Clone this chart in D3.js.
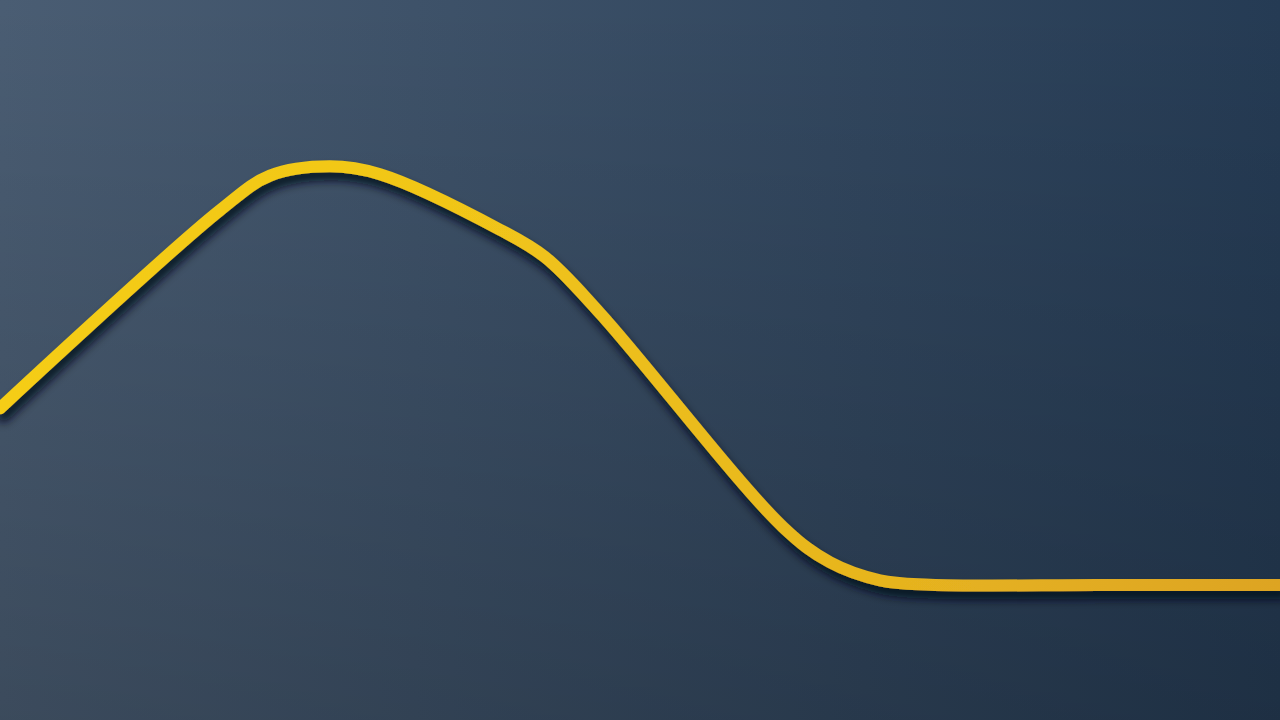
<!DOCTYPE html>
<html>
<head>
<meta charset="utf-8">
<script src="https://cdn.jsdelivr.net/npm/d3@7"></script>
<style>
  html, body { margin: 0; padding: 0; background: #2c3f55; }
  svg { display: block; }
</style>
</head>
<body>
<div id="chart"></div>
<script>
// points: position along x, value in % of chart height
var positions = [0, 220, 270, 330, 380, 500, 545, 600, 783, 830, 880, 930, 1100, 1280];
var values = [43.3, 70.8, 75.6, 76.9, 75.8, 68.1, 64.3, 56.5, 26.8, 21.9, 19.4, 18.8, 18.75, 18.75];

var width = 1280,
    height = 720;

var svg = d3.select("#chart").append("svg")
    .attr("width", width)
    .attr("height", height);

var defs = svg.append("defs");

// background: blue-grey, darker to the right and a bit towards the bottom
var bg = defs.append("linearGradient")
    .attr("id", "bg")
    .attr("x1", 0).attr("y1", 0)
    .attr("x2", 1).attr("y2", 0);
bg.append("stop").attr("offset", 0).attr("stop-color", "#4a5d73");
bg.append("stop").attr("offset", 1).attr("stop-color", "#253b54");

var shade = defs.append("linearGradient")
    .attr("id", "shade")
    .attr("x1", 0).attr("y1", 0)
    .attr("x2", 0).attr("y2", 1);
shade.append("stop").attr("offset", 0).attr("stop-color", "#000").attr("stop-opacity", 0);
shade.append("stop").attr("offset", 1).attr("stop-color", "#000").attr("stop-opacity", 0.2);

// line colour: yellow on the left, amber on the right
var lineGrad = defs.append("linearGradient")
    .attr("id", "lineGrad")
    .attr("gradientUnits", "userSpaceOnUse")
    .attr("x1", 0).attr("y1", 0)
    .attr("x2", width).attr("y2", 0);
lineGrad.append("stop").attr("offset", 0).attr("stop-color", "#f5cd12");
lineGrad.append("stop").attr("offset", 0.35).attr("stop-color", "#f1c619");
lineGrad.append("stop").attr("offset", 1).attr("stop-color", "#dda424");

var shadow = defs.append("filter")
    .attr("id", "shadow")
    .attr("x", "-10%").attr("y", "-20%")
    .attr("width", "120%").attr("height", "150%");
shadow.append("feDropShadow")
    .attr("dx", 3)
    .attr("dy", 8)
    .attr("stdDeviation", 5)
    .attr("flood-color", "#06101b")
    .attr("flood-opacity", 0.9);

svg.append("rect")
    .attr("width", width)
    .attr("height", height)
    .attr("fill", "url(#bg)");
svg.append("rect")
    .attr("width", width)
    .attr("height", height)
    .attr("fill", "url(#shade)");

var x = d3.scaleLinear()
    .domain([0, 1280])
    .range([0, width]);

var y = d3.scaleLinear()
    .domain([0, 100])
    .range([height, 0]);

var line = d3.line()
    .x(function (d, i) { return x(positions[i]); })
    .y(function (d) { return y(d); })
    .curve(d3.curveCatmullRom.alpha(0.5));

svg.append("path")
    .datum(values)
    .attr("d", line)
    .attr("fill", "none")
    .attr("stroke", "url(#lineGrad)")
    .attr("stroke-width", 12)
    .attr("stroke-linecap", "round")
    .attr("stroke-linejoin", "round")
    .attr("filter", "url(#shadow)");
</script>
</body>
</html>
